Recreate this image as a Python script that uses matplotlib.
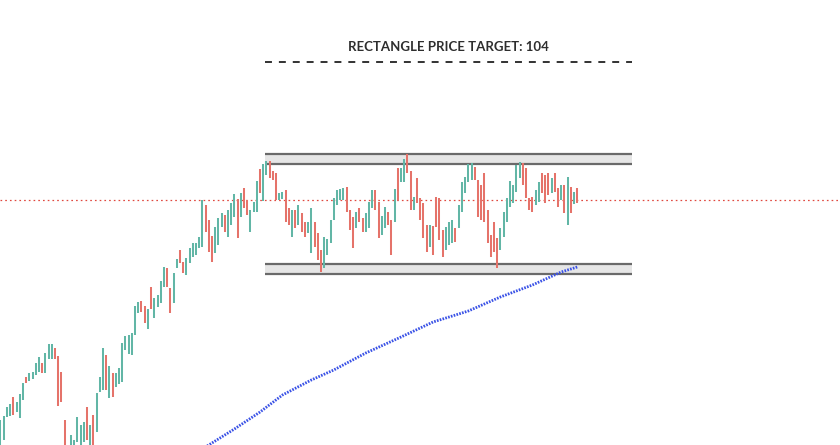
import numpy as np
import matplotlib
matplotlib.use('Agg')
import matplotlib.pyplot as plt

# daily bars (price units, oldest first)
highs = [68.2, 68.6, 69.5, 69.8, 70.5, 70.0, 70.8, 71.9, 72.5, 72.9,
         73.0, 73.9, 74.5, 73.9, 74.9, 75.8, 75.8, 75.4, 74.6, 73.0,
         68.2, 65.0, 66.7, 66.2, 68.5, 67.7, 68.0, 69.5, 67.7, 68.7,
         70.9, 72.5, 75.4, 74.7, 73.6, 72.9, 72.9, 73.4, 75.9, 76.6,
         76.7, 76.9, 79.6, 80.0, 80.1, 79.6, 79.3, 81.5, 80.4, 80.7,
         82.1, 83.5, 83.4, 81.4, 82.9, 84.3, 85.2, 84.0, 84.4, 85.4,
         85.9, 85.9, 86.5, 90.2, 89.7, 88.2, 86.6, 87.5, 88.4, 88.9,
         88.7, 89.2, 89.9, 90.8, 90.3, 90.9, 91.4, 90.2, 89.2, 90.0,
         92.1, 93.3, 93.8, 94.1, 94.1, 93.1, 92.9, 90.9, 91.0, 91.2,
         89.4, 89.2, 89.2, 89.7, 88.9, 88.0, 88.0, 89.4, 88.0, 86.9,
         85.2, 86.5, 86.3, 88.2, 90.4, 91.2, 91.3, 91.4, 91.5, 89.2,
         88.5, 89.0, 89.4, 88.4, 88.9, 90.0, 91.2, 91.2, 90.0, 88.6,
         89.5, 89.0, 88.2, 91.3, 93.4, 93.4, 94.3, 94.8, 93.1, 90.5,
         92.4, 90.4, 89.9, 87.7, 87.7, 87.6, 90.5, 90.4, 87.2, 87.5,
         88.0, 88.2, 87.4, 89.7, 92.0, 92.5, 93.8, 93.9, 93.5, 92.2,
         91.7, 92.9, 89.2, 86.7, 88.0, 86.4, 87.4, 89.0, 90.4, 92.1,
         91.7, 93.7, 94.0, 93.9, 93.4, 90.4, 90.5, 91.2, 92.0, 92.9,
         92.7, 92.9, 92.4, 92.9, 91.4, 91.7, 91.7, 92.5, 91.5, 91.0,
         91.4]
lows = [65.2, 66.2, 68.5, 68.6, 68.7, 69.0, 68.4, 70.2, 71.9, 72.1,
        72.3, 72.7, 73.0, 72.9, 72.9, 74.3, 74.3, 74.3, 69.6, 70.0,
        65.2, 63.5, 65.2, 65.2, 66.0, 65.2, 66.0, 66.2, 65.2, 65.2,
        67.0, 71.0, 71.2, 71.2, 70.4, 70.5, 71.5, 71.8, 72.0, 75.2,
        74.8, 74.7, 76.7, 78.9, 79.0, 77.9, 77.3, 79.3, 78.4, 79.5,
        79.9, 81.5, 81.5, 78.9, 79.9, 83.4, 83.9, 82.9, 82.7, 83.9,
        84.5, 84.7, 85.4, 85.5, 87.0, 85.0, 84.0, 84.9, 85.7, 87.5,
        87.0, 86.5, 87.7, 88.5, 86.4, 88.5, 89.4, 88.7, 87.0, 89.0,
        89.0, 90.9, 90.1, 92.7, 92.4, 92.2, 90.2, 90.2, 90.3, 88.0,
        87.7, 86.5, 87.4, 87.7, 87.0, 86.5, 86.9, 84.9, 85.5, 84.2,
        83.0, 83.4, 84.7, 85.9, 88.2, 89.7, 90.2, 90.2, 89.0, 87.2,
        85.4, 87.4, 88.0, 87.0, 87.0, 87.4, 89.4, 89.2, 86.4, 86.7,
        87.4, 87.7, 84.7, 88.0, 90.2, 92.0, 92.0, 92.9, 89.2, 89.2,
        89.9, 88.2, 86.4, 85.0, 85.5, 84.7, 87.5, 86.2, 84.5, 85.2,
        85.7, 85.9, 86.0, 87.4, 89.0, 90.9, 92.0, 92.2, 92.2, 88.5,
        88.2, 88.0, 85.9, 84.5, 85.0, 83.4, 85.2, 86.5, 88.0, 89.5,
        89.9, 91.0, 92.4, 91.7, 90.4, 89.2, 89.0, 89.7, 90.0, 90.9,
        89.9, 90.7, 90.9, 91.0, 89.5, 90.2, 88.9, 87.7, 88.9, 89.8,
        89.9]
# u = up bar, d = down bar (10 per group)
direction = ("uuuuduuudu" "uuuduuuddd" "dduuuuudud" "uuududuuuu"
             "uuuudduduu" "uudduudduu" "uuuuddduuu" "duuududduu"
             "uduuddduud" "dududduudd" "duuuuuuudd" "dudduuuddu"
             "udduduuddu" "dddduddddu" "uuduuuuudd" "dddddduuuu"
             "uuudddduud" "dduddududu" "d")

# moving average, sampled at some bar positions
ma_idx = [64, 73, 81, 88, 97, 104, 114, 125, 135, 146, 156, 166, 175, 180]
ma_val = [65.5, 67.3, 69.0, 70.7, 72.2, 73.2, 74.9, 76.5, 78.0, 79.1, 80.5, 81.7, 83.0, 83.5]

last_close = 90.2
resistance = (93.8, 94.8)
support = (82.8, 83.8)
pattern_span = (82.55, 197.1)
target = 104

plt.rcParams['lines.scale_dashes'] = False
fig = plt.figure(figsize=(8.4, 4.45), dpi=100)
ax = fig.add_axes([0, 0, 1, 1])
ax.set_xlim(-0.156, 262.0)
ax.set_ylim(65.7, 110.2)
ax.axis('off')

x0, x1 = pattern_span
for lo, hi in (resistance, support):
    ax.fill_between([x0, x1], lo, hi, color='#e6e6e6', zorder=1, lw=0)
    ax.hlines([lo, hi], x0, x1, color='#6a6a6a', lw=1.6, zorder=2)

ax.axhline(last_close, color='#e0483f', lw=0.9, ls=(0, (1.2, 2.2)), zorder=2)

n = len(highs)
idx = np.arange(n)
cols = ['#62b6a6' if d == 'u' else '#e5736a' for d in direction[:n]]
ax.vlines(idx, lows, highs, colors=cols, lw=1.45, zorder=3)

ax.plot(ma_idx, ma_val, color='#3a52e6', lw=2.0, ls=(0, (1.2, 0.9)), zorder=4)

ax.hlines(target, x0, x1, color='#222222', lw=1.3, linestyles=[(0, (5, 5))], zorder=2)
ax.text((x0 + x1) / 2, target + 1.5, 'RECTANGLE PRICE TARGET: %d' % target,
        ha='center', va='center', fontsize=9.5, color='#2e2e2e', family='Lato', weight='bold')

fig.savefig('out.png', dpi=100)
